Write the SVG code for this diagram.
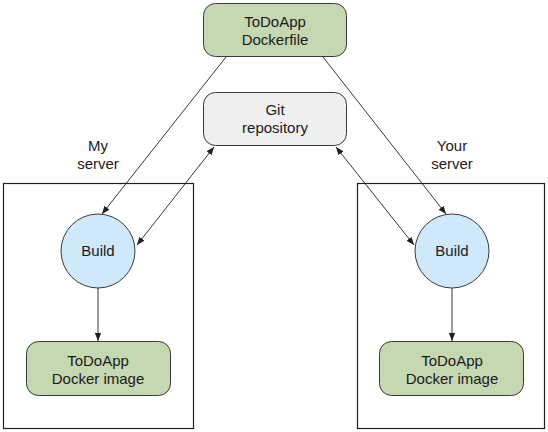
<svg xmlns="http://www.w3.org/2000/svg" width="548" height="432" viewBox="0 0 548 432">
<style>
text{font-family:"Liberation Sans",Arial,sans-serif;font-size:15px;fill:#1c1a1b;text-anchor:middle}
.green{fill:#c5d8b1;stroke:#3a3a3a;stroke-width:1}
.git{fill:#efefef;stroke:#3a3a3a;stroke-width:1}
.build{fill:#cfe9fa;stroke:#3a3a3a;stroke-width:1}
.server{fill:none;stroke:#231f20;stroke-width:1.2}
.conn line{stroke:#231f20;stroke-width:0.9;fill:none}
</style>
<defs>
<marker id="ah" viewBox="0 0 10 10" refX="10" refY="5" markerWidth="8" markerHeight="8" orient="auto-start-reverse" markerUnits="userSpaceOnUse">
<path d="M0,1 L10,5 L0,9 Z" fill="#231f20"/>
</marker>
</defs>
<rect width="548" height="432" fill="#ffffff"/>
<g id="my-server">
<rect class="server" x="3.5" y="183.5" width="190" height="245"/>
<text x="98" y="151">My</text>
<text x="98" y="169">server</text>
</g>
<g id="your-server">
<rect class="server" x="357.5" y="183.5" width="187" height="245"/>
<text x="452" y="151">Your</text>
<text x="452" y="169">server</text>
</g>
<g id="dockerfile">
<rect class="green" x="203.5" y="3.5" width="143" height="53" rx="12"/>
<text x="275" y="26.5">ToDoApp</text>
<text x="275" y="45">Dockerfile</text>
</g>
<g id="git">
<rect class="git" x="203.5" y="92.5" width="143" height="53" rx="12"/>
<text x="275" y="115">Git</text>
<text x="275" y="133">repository</text>
</g>
<g id="build-left">
<circle class="build" cx="98" cy="251" r="37"/>
<text x="98" y="256">Build</text>
</g>
<g id="build-right">
<circle class="build" cx="452" cy="251" r="37"/>
<text x="452" y="256">Build</text>
</g>
<g id="image-left">
<rect class="green" x="26.5" y="341.5" width="144" height="54" rx="12"/>
<text x="98" y="366">ToDoApp</text>
<text x="98" y="384">Docker image</text>
</g>
<g id="image-right">
<rect class="green" x="379.5" y="341.5" width="144" height="54" rx="12"/>
<text x="452" y="366">ToDoApp</text>
<text x="452" y="384">Docker image</text>
</g>
<g class="conn" id="connectors">
<line x1="226" y1="57" x2="102" y2="214" marker-end="url(#ah)"/>
<line x1="323" y1="57" x2="446" y2="214" marker-end="url(#ah)"/>
<line x1="214" y1="147" x2="137" y2="245" marker-start="url(#ah)" marker-end="url(#ah)"/>
<line x1="336" y1="147" x2="414" y2="245" marker-start="url(#ah)" marker-end="url(#ah)"/>
<line x1="98" y1="288" x2="98" y2="341" marker-end="url(#ah)"/>
<line x1="452" y1="288" x2="452" y2="341" marker-end="url(#ah)"/>
</g>
</svg>
